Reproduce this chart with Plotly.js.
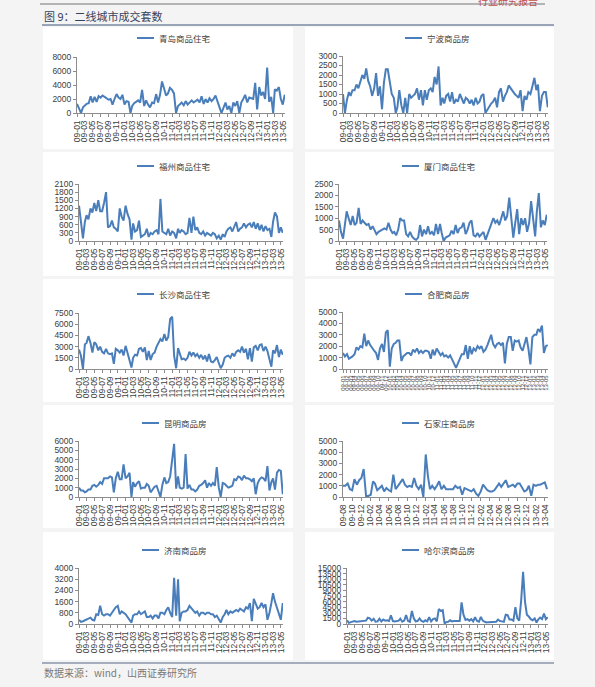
<!DOCTYPE html>
<html>
<head>
<meta charset="utf-8">
<script src="https://cdn.plot.ly/plotly-3.0.1.min.js"></script>
<style>
  html, body { margin: 0; padding: 0; background: #f4f4f4; }
  #chart { width: 595px; height: 687px; }
</style>
</head>
<body>
<div id="chart"></div>
<script>
// Weekly-ish (semi-monthly) transaction counts of second-tier cities, 2009-01 .. 2013-05
const cityLabels = ['青岛商品住宅', '宁波商品房', '福州商品住宅', '厦门商品住宅', '长沙商品住宅',
                    '合肥商品房', '昆明商品房', '石家庄商品房', '济南商品房', '哈尔滨商品房'];

const qingdao = [1300,700,0,800,1000,1300,1400,2400,1500,2300,
  1600,2400,2200,2500,2300,2100,1900,2000,1200,2000,
  2700,2200,2000,2600,1200,1700,1600,0,1000,1400,
  1600,1800,1500,3300,1000,1800,1200,800,1500,1400,
  2700,1500,2600,4500,3500,2500,2800,3600,3300,2800,
  0,1000,1200,1500,1100,1700,1200,1500,1800,1500,
  1700,1900,1500,2400,1300,2000,1500,2100,1700,2000,
  2500,1500,800,0,800,1500,500,1000,0,1500,
  1000,1700,0,1500,2000,2600,1500,2200,2100,2000,
  4300,500,3700,2500,3000,2000,6500,1600,2300,0,
  3400,3200,3700,2000,1200,2600];

const ningbo = [1000,0,700,1100,900,1200,1200,1500,1300,1600,
  2000,1800,2350,1700,1400,900,1300,2100,900,1400,
  200,1600,2300,2300,1500,1000,800,0,300,1200,
  400,0,800,0,1000,800,900,1000,1300,700,
  1200,400,1200,700,1200,1300,1100,1900,1500,2450,
  400,800,500,900,1000,600,1100,500,700,600,
  1000,700,500,800,700,500,700,400,800,500,
  600,900,1000,0,200,400,500,600,800,300,
  1100,1300,600,900,1100,1450,1300,1100,1000,900,
  800,1200,100,900,700,1100,1000,1400,1850,1200,
  1500,100,900,1100,1100,300];

const fuzhou = [1300,600,100,700,950,800,1200,1050,1400,1100,
  1500,1100,1100,1400,1800,500,550,750,500,450,
  350,1200,900,750,1300,1000,800,50,650,350,
  400,750,150,200,250,450,150,300,250,350,
  400,250,1550,350,300,250,450,200,350,300,
  100,450,300,400,350,250,300,850,300,900,
  400,500,300,250,350,200,300,250,200,300,
  250,100,200,50,250,150,350,450,500,350,
  500,700,350,450,500,650,500,600,650,500,
  700,450,650,400,600,350,550,400,450,150,
  700,1050,900,300,500,300];

const xiamen = [900,400,100,900,1300,1000,700,1100,700,800,
  1450,750,900,800,700,750,500,650,450,300,
  400,450,500,550,500,800,500,350,400,250,
  500,1000,900,900,300,200,400,200,100,50,
  150,700,200,500,300,650,300,400,250,750,
  300,750,350,0,150,200,250,450,300,700,
  350,550,600,800,300,500,800,900,250,200,
  350,200,300,400,50,300,500,700,1000,800,
  900,700,1000,1300,900,1100,1900,1100,150,800,
  1400,300,1000,700,1000,400,800,1750,1000,200,
  1300,2100,600,900,700,1150];

const changsha = [2600,1800,0,3300,3500,4400,3500,2200,3600,3300,
  2500,3000,2300,2100,2700,2100,2000,2100,700,2700,
  2500,2200,2600,1800,3100,2200,1000,200,1500,1900,
  1800,2700,2800,2300,2900,1200,2400,1200,2000,2200,
  3000,3600,4000,3700,4700,3800,4300,6700,7000,1800,
  100,2800,2000,1300,1400,1200,1500,2300,1800,2200,
  1700,2000,1500,1900,1300,1800,1000,2000,1000,900,
  1200,1600,800,100,600,1500,1700,1800,1500,2100,
  1700,2300,2500,2300,3000,2200,2700,1300,2800,1000,
  2900,3100,2500,3200,3300,2400,3000,2400,1300,300,
  2500,2100,3200,1600,2600,1900];

const hefei = [1400,1100,1300,900,1000,1100,1300,1900,1700,2000,
  1900,3100,2000,2500,2100,1800,1600,1400,800,1800,
  2200,1500,3200,3400,200,1800,2200,2300,2500,2500,
  700,1100,1300,1400,1400,1200,1700,1500,1800,1400,
  1600,1400,1600,1600,1500,900,1700,1200,1800,1500,
  1200,1400,1100,1200,1000,1200,900,500,100,500,
  1000,1300,1300,2100,900,2000,1300,1800,1600,2000,
  1800,2000,1500,1700,2100,2500,3000,2200,1900,2200,
  2300,2100,2300,500,2200,2800,2800,1600,2500,2400,
  2500,1900,1600,2200,2800,1800,400,2800,3000,3000,
  3500,3300,3800,1400,2000,2100];

const kunming = [1000,700,700,500,600,800,800,1200,1300,1100,
  1300,1600,1400,2000,2000,2000,2200,2100,500,2000,
  2700,1900,1900,3500,2000,2200,2600,0,1600,1100,
  1500,1700,900,1000,1000,1400,1200,500,800,1100,
  1200,700,0,1300,2100,1500,1600,2200,4300,5700,
  900,2200,1000,900,1000,4600,900,1300,800,800,
  600,800,1200,1300,1500,1800,1000,1500,1200,1500,
  1200,3200,1000,0,1500,1400,1200,1000,1100,1200,
  1900,1800,2200,2100,1800,2300,2000,2000,1900,1700,
  2000,300,1500,1900,2100,2000,1700,3300,700,1600,
  2000,800,2600,2900,2800,300];

// 石家庄 series starts in 2009-08
const shijiazhuang = [1000,1000,1200,700,600,1600,1100,1500,1700,2500,
  100,100,200,1400,1200,600,800,1000,500,800,
  600,500,2000,700,1000,1300,1600,1100,900,1000,
  900,1700,1000,700,1100,0,3800,1800,700,1000,
  700,1000,1400,700,1000,700,700,700,700,1000,
  800,900,200,800,700,600,500,700,300,100,
  500,1100,800,600,500,500,600,900,1200,900,
  1200,1500,900,1000,1100,900,1200,1200,800,500,
  600,1000,100,1100,1000,1100,1100,1200,1300,700];

const jinan = [300,150,200,250,300,400,450,300,250,700,
  650,1300,700,600,700,700,600,800,1000,1200,
  1300,700,900,800,700,500,300,100,600,700,
  700,900,700,800,900,500,500,600,400,600,
  600,400,800,800,700,1000,1200,800,500,3300,
  600,3200,200,800,900,900,1000,1300,1100,1000,
  800,900,600,800,800,700,800,800,700,700,
  500,600,300,100,500,700,1000,700,900,800,
  900,1000,900,1100,1000,900,1200,1100,1500,200,
  1800,1400,1100,1200,1500,1200,1400,300,800,1500,
  2200,1600,1200,700,300,1500];

const harbin = [1000,300,500,700,800,600,700,600,800,800,
  900,1700,1500,900,1400,600,700,1400,700,1200,
  900,1000,800,2300,800,700,900,900,1400,600,
  900,2400,800,600,3500,1500,700,800,1500,800,
  600,1000,700,1800,700,1300,1500,700,4000,3500,
  3700,100,500,600,1000,700,800,800,1000,800,
  5800,2500,1100,1300,900,1300,700,1800,800,600,
  1900,900,600,400,500,500,400,600,600,1200,
  800,700,600,2500,2400,1200,1200,900,4500,1500,
  900,6000,14000,6000,2500,2000,1300,1000,1500,400,
  1200,1700,1300,2800,1300,1800];

// Observation dates: the 1st and the 16th of each month from a start month
function halfMonthDates(year, month, n) {
  const out = [];
  for (let i = 0; i < n; i++) {
    const mi = month - 1 + Math.floor(i / 2);
    const y = year + Math.floor(mi / 12);
    const m = (mi % 12) + 1;
    out.push(y + '-' + String(m).padStart(2, '0') + '-' + (i % 2 ? '16' : '01'));
  }
  return out;
}

const W = 595, H = 687;
const px = x => x / W;
const py = y => 1 - y / H;

const BLUE = '#4a7ebb';
const TXT = '#404040';
const AXIS = '#8c8c8c';
const NUM_FONT = 'Liberation Sans, Arial, sans-serif';
const CJK_FONT = 'Noto Sans CJK SC, sans-serif';

// Panel geometry (page pixels): white card, plot rectangle, legend anchor
const panels = [
  {values: qingdao,      start: [2009, 1], end: '2013-05-18', box: [43, 27, 293, 149],  plot: [77, 57, 285, 113],  leg: [137, 38],  ymax: 8000,  ystep: 2000, dtick: 'M2'},
  {values: ningbo,       start: [2009, 1], end: '2013-05-18', box: [305, 27, 554, 149], plot: [343, 56, 548, 113], leg: [405, 38],  ymax: 3000,  ystep: 500,  dtick: 'M2'},
  {values: fuzhou,       start: [2009, 1], end: '2013-05-18', box: [43, 152, 293, 276], plot: [79, 184, 283, 241], leg: [137, 166], ymax: 2100,  ystep: 300,  dtick: 'M2'},
  {values: xiamen,       start: [2009, 1], end: '2013-05-18', box: [305, 152, 554, 276],plot: [339, 184, 547, 241],leg: [402, 166], ymax: 2500,  ystep: 500,  dtick: 'M2'},
  {values: changsha,     start: [2009, 1], end: '2013-05-18', box: [43, 279, 293, 402], plot: [79, 313, 283, 369], leg: [137, 294], ymax: 7500,  ystep: 1500, dtick: 'M2'},
  {values: hefei,        start: [2009, 1], end: '2013-05-18', box: [305, 279, 554, 402],plot: [343, 312, 548, 369],leg: [405, 294], ymax: 5000,  ystep: 1000, dtick: 'M1', small: true},
  {values: kunming,      start: [2009, 1], end: '2013-05-18', box: [43, 405, 293, 528], plot: [79, 441, 283, 497], leg: [142, 423], ymax: 6000,  ystep: 1000, dtick: 'M2'},
  {values: shijiazhuang, start: [2009, 8], end: '2013-04-22', box: [305, 405, 554, 528],plot: [343, 441, 548, 497],leg: [402, 423], ymax: 5000,  ystep: 1000, dtick: 'M2'},
  {values: jinan,        start: [2009, 1], end: '2013-05-18', box: [43, 532, 293, 660], plot: [79, 568, 283, 624], leg: [142, 550], ymax: 4000,  ystep: 800,  dtick: 'M2'},
  {values: harbin,       start: [2009, 1], end: '2013-05-18', box: [305, 532, 554, 660],plot: [347, 568, 548, 624],leg: [402, 550], ymax: 15000, ystep: 1500, dtick: 'M2'}
];

const traces = [];
const shapes = [];
const annotations = [];
const layout = {
  width: W, height: H,
  margin: {l: 0, r: 0, t: 0, b: 0},
  paper_bgcolor: '#f4f4f4',
  plot_bgcolor: 'rgba(0,0,0,0)',
  showlegend: false,
  shapes: shapes,
  annotations: annotations
};

panels.forEach((p, i) => {
  const s = i === 0 ? '' : String(i + 1);
  const x = halfMonthDates(p.start[0], p.start[1], p.values.length);
  traces.push({
    type: 'scatter', mode: 'lines',
    x: x, y: p.values,
    xaxis: 'x' + s, yaxis: 'y' + s,
    line: {color: BLUE, width: 2},
    hoverinfo: 'skip'
  });

  const firstTick = p.start[0] + '-' + String(p.start[1]).padStart(2, '0') + '-01';
  layout['xaxis' + s] = {
    type: 'date',
    domain: [px(p.plot[0]), px(p.plot[2])],
    anchor: 'y' + s,
    range: [firstTick, p.end],
    tick0: firstTick, dtick: p.dtick,
    tickformat: '%y-%m', tickangle: -90,
    tickfont: {family: NUM_FONT, size: p.small ? 6 : 8.5, color: TXT},
    showline: true, linecolor: AXIS, linewidth: 1,
    ticks: 'outside', ticklen: 3, tickcolor: AXIS,
    showgrid: false, zeroline: false, fixedrange: true
  };
  layout['yaxis' + s] = {
    domain: [py(p.plot[3]), py(p.plot[1])],
    anchor: 'x' + s,
    range: [0, p.ymax], dtick: p.ystep, tick0: 0,
    tickformat: 'd',
    tickfont: {family: NUM_FONT, size: 8.5, color: TXT},
    showline: true, linecolor: AXIS, linewidth: 1,
    ticks: 'outside', ticklen: 3, tickcolor: AXIS,
    showgrid: false, zeroline: false, fixedrange: true
  };

  // white card behind each small chart
  shapes.push({type: 'rect', xref: 'paper', yref: 'paper', layer: 'below',
    x0: px(p.box[0]), x1: px(p.box[2]), y0: py(p.box[3]), y1: py(p.box[1]),
    fillcolor: '#ffffff', line: {width: 0}});
  // legend key
  shapes.push({type: 'line', xref: 'paper', yref: 'paper',
    x0: px(p.leg[0]), x1: px(p.leg[0] + 17), y0: py(p.leg[1]), y1: py(p.leg[1]),
    line: {color: BLUE, width: 2}});
  annotations.push({xref: 'paper', yref: 'paper', x: px(p.leg[0] + 20), y: py(p.leg[1]),
    xanchor: 'left', yanchor: 'middle', showarrow: false,
    text: cityLabels[i], font: {family: CJK_FONT, size: 8.5, color: TXT}});
});

// page furniture: rules, figure caption, source note
shapes.push({type: 'line', xref: 'paper', yref: 'paper', x0: px(40), x1: px(545), y0: py(4), y1: py(4),
  line: {color: '#b4b4b4', width: 2}});
shapes.push({type: 'line', xref: 'paper', yref: 'paper', x0: px(42), x1: px(554), y0: py(25), y1: py(25),
  line: {color: '#7d8aa3', width: 1.5}});
shapes.push({type: 'line', xref: 'paper', yref: 'paper', x0: px(42), x1: px(554), y0: py(663), y1: py(663),
  line: {color: '#8b95aa', width: 1.5}});

annotations.push({xref: 'paper', yref: 'paper', x: px(540), y: py(0), xanchor: 'right', yanchor: 'middle',
  showarrow: false, text: '行业研究报告', font: {family: CJK_FONT, size: 10, color: '#c0504d'}});
annotations.push({xref: 'paper', yref: 'paper', x: px(42), y: py(16), xanchor: 'left', yanchor: 'middle',
  showarrow: false, text: '图 9：二线城市成交套数', font: {family: CJK_FONT, size: 11, color: '#34425e'}});
annotations.push({xref: 'paper', yref: 'paper', x: px(42), y: py(672), xanchor: 'left', yanchor: 'middle',
  showarrow: false, text: '数据来源：wind，山西证券研究所', font: {family: CJK_FONT, size: 10, color: '#7a7a7a'}});

Plotly.newPlot('chart', traces, layout, {staticPlot: true, displayModeBar: false});
</script>
</body>
</html>
